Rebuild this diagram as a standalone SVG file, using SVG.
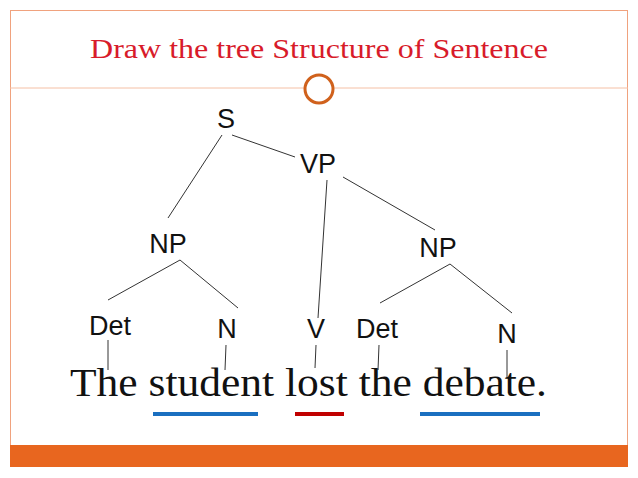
<svg xmlns="http://www.w3.org/2000/svg" width="638" height="478" viewBox="0 0 638 478">
<style>
.lbl{font-family:"Liberation Sans",Arial,sans-serif;font-size:27px;fill:#111;text-anchor:middle}
.e{stroke:#333;stroke-width:1}
</style>
<rect width="638" height="478" fill="#fff"/>
<rect x="10.5" y="10.5" width="617" height="456" fill="none" stroke="#f0a27e" stroke-width="1"/>
<line x1="10" y1="88" x2="628" y2="88" stroke="#f5c0a5" stroke-width="1"/>
<rect x="10" y="445" width="618" height="22" fill="#e8661f"/>
<circle cx="319" cy="89" r="14" fill="#fff" stroke="#d0611c" stroke-width="3"/>
<text x="90" y="58" textLength="458" lengthAdjust="spacingAndGlyphs" font-family="Liberation Serif,serif" font-size="27" fill="#d81b2a">Draw the tree Structure of Sentence</text>
<g id="connectors">
<line class="e" x1="232" y1="135" x2="295" y2="157"/>
<line class="e" x1="222" y1="135" x2="168" y2="218"/>
<line class="e" x1="327" y1="180" x2="318" y2="318"/>
<line class="e" x1="343" y1="177" x2="435" y2="230"/>
<line class="e" x1="180" y1="260" x2="108" y2="300"/>
<line class="e" x1="180" y1="260" x2="238" y2="308"/>
<line class="e" x1="450" y1="264" x2="380" y2="303"/>
<line class="e" x1="450" y1="264" x2="512" y2="313"/>
<line class="e" x1="108" y1="340" x2="108" y2="370"/>
<line class="e" x1="226" y1="345" x2="225" y2="370"/>
<line class="e" x1="316" y1="345" x2="315" y2="368"/>
<line class="e" x1="379" y1="345" x2="378" y2="370"/>
<line class="e" x1="507" y1="350" x2="507" y2="378"/>
</g>
<g id="S"><text class="lbl" x="226" y="128">S</text></g>
<g id="VP"><text class="lbl" x="318" y="173">VP</text></g>
<g id="NP1"><text class="lbl" x="168" y="253">NP</text></g>
<g id="NP2"><text class="lbl" x="438" y="257">NP</text></g>
<g id="Det1"><text class="lbl" x="110" y="335">Det</text></g>
<g id="N1"><text class="lbl" x="227" y="338">N</text></g>
<g id="V"><text class="lbl" x="316" y="338">V</text></g>
<g id="Det2"><text class="lbl" x="377" y="338">Det</text></g>
<g id="N2"><text class="lbl" x="507" y="343">N</text></g>
<text x="70" y="396" textLength="477" lengthAdjust="spacingAndGlyphs" font-family="Liberation Serif,serif" font-size="40" fill="#111">The student lost the debate.</text>
<rect x="153" y="412" width="105" height="4" fill="#1a6fc0"/>
<rect x="295" y="412" width="49" height="4" fill="#c00000"/>
<rect x="420" y="412" width="120" height="4" fill="#1a6fc0"/>
</svg>
